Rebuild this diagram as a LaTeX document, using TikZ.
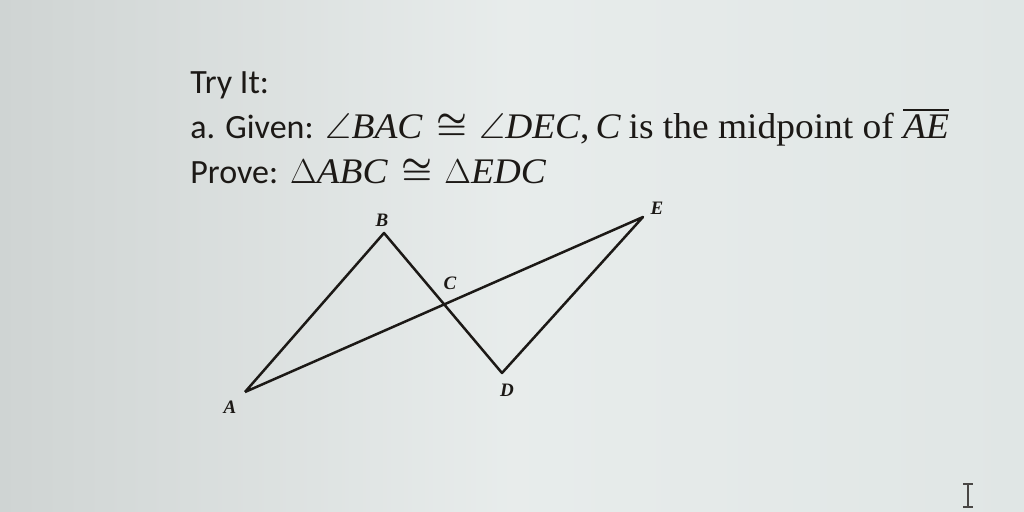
\documentclass[tikz,border=0pt]{standalone}
\usepackage{fontspec}
\usepackage{amsmath,amssymb}
\setmainfont{Carlito}
\newfontfamily\cambria[FakeStretch=1.04]{Liberation Serif}
\newfontfamily\labelfont{Liberation Serif}
\newcommand{\pnt}[1]{{\cambria\itshape #1}}
\newcommand{\congr}{\hspace{7pt}$\boldsymbol{\cong}$\hspace{6pt}}
\definecolor{screen}{HTML}{E0E6E5}
\definecolor{screenl}{HTML}{CFD4D3}
\definecolor{ink}{HTML}{1C1916}

\begin{document}
\begin{tikzpicture}[x=0.5pt,y=-0.5pt,
  txt/.style={anchor=base west,inner sep=0,text=ink},
  lbl/.style={inner sep=0,text=ink,font=\labelfont\bfseries\itshape\fontsize{9.5}{10}\selectfont},
  seg/.style={draw=ink,line width=1.25pt,line join=round}]
 	\shade[left color=screenl,right color=screen,middle color=screen!75!white] (0,0) rectangle (1024,512);
 	\useasboundingbox (0,0) rectangle (1024,512);

 	\node (try)[txt,font=\fontsize{17}{20}\selectfont] at (190,94) {Try It:};
 	\node (given)[txt] at (190,139) {{\fontsize{17}{20}\selectfont a. Given:\hspace{6pt}}{\fontsize{18}{20}\selectfont $\angle$\pnt{BAC}\congr$\angle$\pnt{DEC}{\cambria,}\,\pnt{C} \cambria is the midpoint of $\overline{\mbox{\pnt{AE}}}$}};
 	\node (prove)[txt] at (190,184) {{\fontsize{17}{20}\selectfont Prove:\hspace{6pt}}{\fontsize{18}{20}\selectfont $\Delta$\pnt{ABC}\congr$\Delta$\pnt{EDC}}};

 	\coordinate (A) at (245,392);
 	\coordinate (B) at (384,233);
 	\coordinate (C) at (444,305);
 	\coordinate (D) at (502,373);
 	\coordinate (E) at (643,217);

 	\node (lblA)[lbl] at (230,407) {A};
 	\node (lblB)[lbl] at (382,220) {B};
 	\node (lblC)[lbl] at (450,283) {C};
 	\node (lblD)[lbl] at (507,390) {D};
 	\node (lblE)[lbl] at (657,208) {E};

 	\draw[seg] (A) -- (B) -- (D) -- (E) -- (A);

 	% text cursor
 	\draw[ink!80,line width=0.6pt] (963,484) -- (973,484) (968,484) -- (968,507) (963,507) -- (973,507);
\end{tikzpicture}
\end{document}
